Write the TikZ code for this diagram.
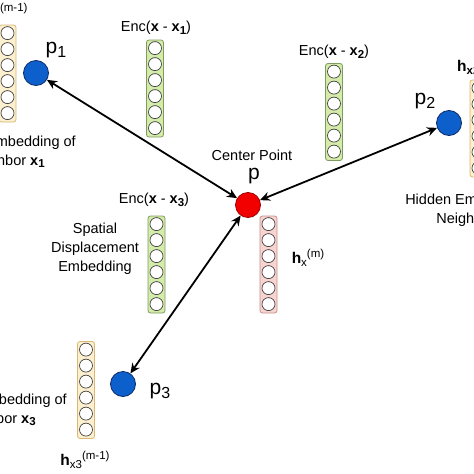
\documentclass[tikz,border=0pt]{standalone}
\usepackage{fontspec}
\setmainfont{Liberation Sans}
\usetikzlibrary{arrows.meta}
\definecolor{gfill}{HTML}{D5EBA9}
\definecolor{gline}{HTML}{7E9C5E}
\definecolor{pfill}{HTML}{F8D4D1}
\definecolor{pline}{HTML}{C98E8B}
\definecolor{yfill}{HTML}{FDF0CF}
\definecolor{yline}{HTML}{D8B872}
\definecolor{bluept}{HTML}{0D5FCB}
\definecolor{blueln}{HTML}{0B2A66}
\definecolor{redpt}{HTML}{F20000}
\definecolor{redln}{HTML}{9E0000}
\newcommand\mysub[1]{\raisebox{-0.35ex}{\fontsize{11.5}{12}\selectfont #1}}
\newcommand\mysup[1]{\raisebox{0.75ex}{\fontsize{11.5}{12}\selectfont #1}}
\newcommand\bigsub[1]{\raisebox{-0.4ex}{\fontsize{16}{16}\selectfont #1}}
\tikzset{
  vcolumn/.style={rectangle, rounded corners=2.5pt, minimum width=17pt, minimum height=97pt, inner sep=0pt, line width=0.8pt},
  greencol/.style={vcolumn, fill=gfill, draw=gline},
  pinkcol/.style={vcolumn, fill=pfill, draw=pline},
  yellowcol/.style={vcolumn, fill=yfill, draw=yline},
  cell/.style={draw=black!75, fill=white, line width=0.7pt},
  neighbor/.style={circle, fill=bluept, draw=blueln, line width=0.8pt, minimum size=25pt, inner sep=0pt},
  centerpt/.style={circle, fill=redpt, draw=redln, line width=0.8pt, minimum size=25pt, inner sep=0pt},
  lbl/.style={inner sep=0pt, font=\fontsize{14.5}{19}\selectfont, align=center},
  hlbl/.style={inner sep=0pt, font=\fontsize{15.5}{19}\selectfont},
  plbl/.style={inner sep=0pt, font=\fontsize{21}{24}\selectfont},
  link/.style={{Stealth[length=10pt,width=9pt]}-{Stealth[length=10pt,width=9pt]}, line width=1.8pt, black},
}
\newcommand\vcol[4]{%
  \node[#2] (#1) at (#3,#4) {};
  \foreach \i in {0,...,5} \draw[cell] (#1.north) ++(0,{8.5+16*\i}) circle (6.5pt);
}
\begin{document}
\begin{tikzpicture}[x=1pt,y=-1pt]
\useasboundingbox (0,0) rectangle (474,474);
\clip (0,0) rectangle (474,474);
\fill[white] (0,0) rectangle (474,474);
% columns
\vcol{hone}{yellowcol}{7.5}{73.5}
\vcol{eone}{greencol}{155}{88.5}
\vcol{etwo}{greencol}{334}{112}
\vcol{htwo}{yellowcol}{478.5}{128.5}
\vcol{ethree}{greencol}{156.5}{264.5}
\vcol{hm}{pinkcol}{268.5}{264.5}
\vcol{hthree}{yellowcol}{86}{390}
% points
\node[neighbor] (p1) at (36,73) {};
\node[neighbor] (p2) at (449,123) {};
\node[neighbor] (p3) at (123,384) {};
\node[centerpt] (p) at (248,205) {};
% point labels
\node[plbl] (lp1) at (56,50) {p\bigsub{1}};
\node[plbl] (lp2) at (425,101) {p\bigsub{2}};
\node[plbl] (lp3) at (160,391) {p\bigsub{3}};
\node[plbl] (lp) at (254,176) {p};
\node[lbl] (lcenter) at (252,155) {Center Point};
% encodings
\node[lbl] (lenc1) at (156,28) {Enc(\textbf{x} - \textbf{x\mysub{1}})};
\node[lbl] (lenc2) at (334,52) {Enc(\textbf{x} - \textbf{x\mysub{2}})};
\node[lbl] (lenc3) at (154,200) {Enc(\textbf{x} - \textbf{x\mysub{3}})};
\node[lbl] (lspatial) at (95,249) {Spatial\\Displacement\\Embedding};
% hidden labels
\node[hlbl] (lh1) at (3,12) {\textbf{h}\mysub{x1}\mysup{(m-1)}};
\node[hlbl, anchor=west] (lh2) at (457,66) {\textbf{h}\mysub{\textbf{x2}}\mysup{(m-1)}};
\node[hlbl] (lh3) at (85,460) {\textbf{h}\mysub{x3}\mysup{(m-1)}};
\node[hlbl] (lhm) at (308,258) {\textbf{h}\mysub{x}\mysup{(m)}};
\node[lbl] (ln1) at (6,152) {Hidden Embedding of\\Neighbor \textbf{x\mysub{1}}};
\node[lbl] (ln2) at (475,210) {Hidden Embedding of\\Neighbor \textbf{x\mysub{2}}};
\node[lbl] (ln3) at (-3,410) {Hidden Embedding of\\Neighbor \textbf{x\mysub{3}}};
% links
\draw[link] (p1) -- (p);
\draw[link] (p2) -- (p);
\draw[link] (p3) -- (p);
\end{tikzpicture}
\end{document}
